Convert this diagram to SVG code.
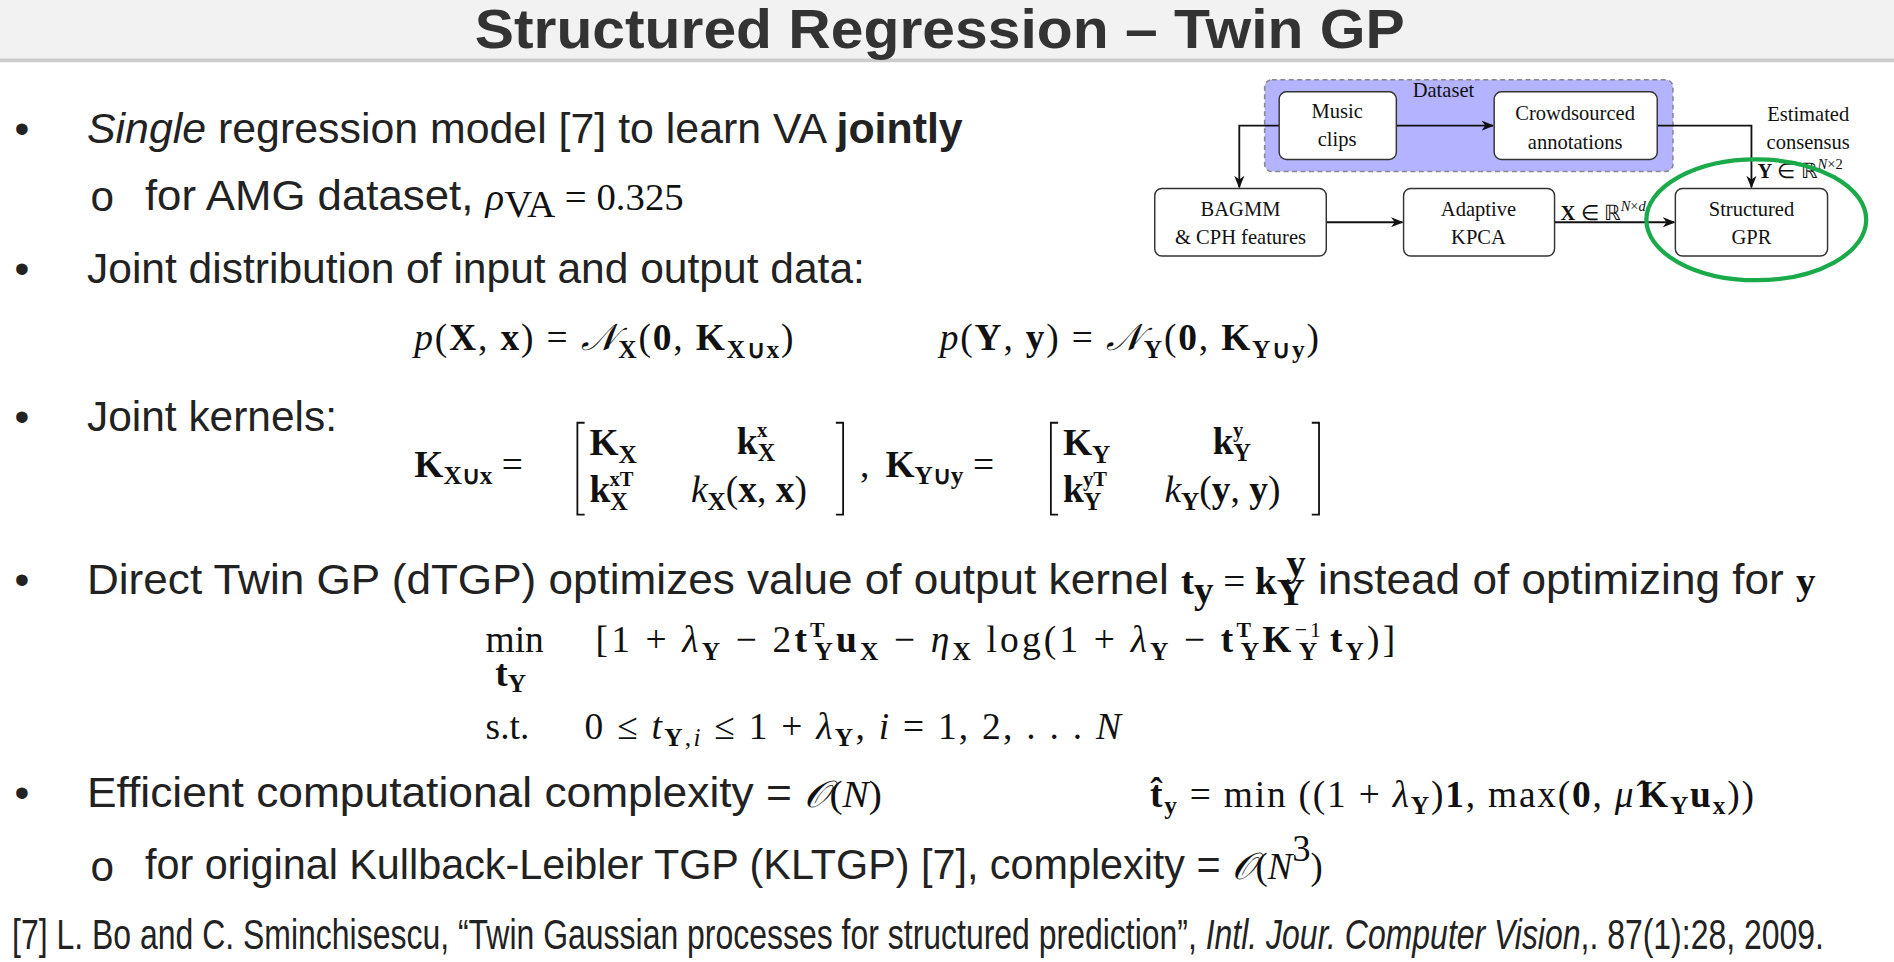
<svg xmlns="http://www.w3.org/2000/svg" width="1894" height="962" viewBox="0 0 1894 962">
<style>
.t{font-family:"Liberation Sans",Arial,sans-serif;font-size:35px;fill:#222}
.m{font-family:"Liberation Serif","Times New Roman",serif;font-size:31px;fill:#111}
.d{font-family:"Liberation Serif","Times New Roman",serif;font-size:17px;fill:#111}
.b{fill:#fff;stroke:#333;stroke-width:1.2}
.c{fill:none;stroke:#111;stroke-width:1.5}
</style>
<defs><marker id="a" viewBox="0 0 10 10" refX="9" refY="5" markerWidth="7" markerHeight="7" orient="auto"><path d="M0,1 L10,5 L0,9 L3,5 z" fill="#111"/></marker></defs>
<rect width="1894" height="962" fill="#fff"/>
<g transform="scale(1.2079)">
<rect x="0" y="0" width="1568" height="50" fill="#f2f2f2"/>
<line x1="0" y1="50" x2="1568" y2="50" stroke="#ccc" stroke-width="3"/>
<text x="393" y="40" textLength="770" lengthAdjust="spacingAndGlyphs" style="font-family:'Liberation Sans',Arial,sans-serif;font-size:46px;font-weight:bold;fill:#333">Structured Regression – Twin GP</text>

<g id="text">
<text class="t" x="12" y="118">•</text>
<text class="t" x="72" y="118" textLength="725" lengthAdjust="spacingAndGlyphs"><tspan font-style="italic">Single</tspan> regression model [7] to learn VA <tspan font-weight="bold">jointly</tspan></text>
<text class="t" x="75" y="175" font-size="28">o</text>
<text class="t" x="120" y="174" textLength="446" lengthAdjust="spacingAndGlyphs">for AMG dataset, <tspan class="m" font-size="33" font-style="italic">ρ</tspan><tspan class="m" font-size="22" dy="6">VA</tspan><tspan class="m" font-size="33" dy="-6"> = 0.325</tspan></text>
<text class="t" x="12" y="234">•</text>
<text class="t" x="72" y="234" textLength="644" lengthAdjust="spacingAndGlyphs">Joint distribution of input and output data:</text>
<text class="m" x="343" y="290" textLength="314"><tspan font-style="italic">p</tspan>(<tspan font-weight="bold">X</tspan>, <tspan font-weight="bold">x</tspan>) = <tspan font-style="italic">𝒩</tspan><tspan font-size="21" font-weight="bold" dy="6">X</tspan><tspan dy="-6">(</tspan><tspan font-weight="bold">0</tspan>, <tspan font-weight="bold">K</tspan><tspan font-size="21" font-weight="bold" dy="6">X∪x</tspan><tspan dy="-6">)</tspan></text>
<text class="m" x="778" y="290" textLength="314"><tspan font-style="italic">p</tspan>(<tspan font-weight="bold">Y</tspan>, <tspan font-weight="bold">y</tspan>) = <tspan font-style="italic">𝒩</tspan><tspan font-size="21" font-weight="bold" dy="6">Y</tspan><tspan dy="-6">(</tspan><tspan font-weight="bold">0</tspan>, <tspan font-weight="bold">K</tspan><tspan font-size="21" font-weight="bold" dy="6">Y∪y</tspan><tspan dy="-6">)</tspan></text>
<text class="t" x="12" y="357">•</text>
<text class="t" x="72" y="357" textLength="207" lengthAdjust="spacingAndGlyphs">Joint kernels:</text>
<text class="m" x="343" y="395" font-weight="bold">K<tspan font-size="21" dy="6">X∪x</tspan><tspan dy="-6" font-weight="normal"> =</tspan></text>
<path d="M484,350 h-6 v76 h6 M692,350 h6 v76 h-6" class="c" stroke-width="2"/>
<text class="m" x="488" y="377" font-weight="bold">K<tspan font-size="21" dy="6">X</tspan></text>
<text class="m" x="610" y="376" font-weight="bold">k<tspan font-size="20" dy="6">X</tspan><tspan font-size="17" dx="-15" dy="-20">x</tspan></text>
<text class="m" x="488" y="416" font-weight="bold">k<tspan font-size="20" dy="6">X</tspan><tspan font-size="17" dx="-15" dy="-20">xT</tspan></text>
<text class="m" x="572" y="416"><tspan font-style="italic">k</tspan><tspan font-size="21" font-weight="bold" dy="6">X</tspan><tspan dy="-6">(</tspan><tspan font-weight="bold">x</tspan>, <tspan font-weight="bold">x</tspan>)</text>
<text class="m" x="712" y="395">,</text>
<text class="m" x="733" y="395" font-weight="bold">K<tspan font-size="21" dy="6">Y∪y</tspan><tspan dy="-6" font-weight="normal"> =</tspan></text>
<path d="M876,350 h-6 v76 h6 M1086,350 h6 v76 h-6" class="c" stroke-width="2"/>
<text class="m" x="880" y="377" font-weight="bold">K<tspan font-size="21" dy="6">Y</tspan></text>
<text class="m" x="1004" y="376" font-weight="bold">k<tspan font-size="20" dy="6">Y</tspan><tspan font-size="17" dx="-15" dy="-20">y</tspan></text>
<text class="m" x="880" y="416" font-weight="bold">k<tspan font-size="20" dy="6">Y</tspan><tspan font-size="17" dx="-15" dy="-20">yT</tspan></text>
<text class="m" x="964" y="416"><tspan font-style="italic">k</tspan><tspan font-size="21" font-weight="bold" dy="6">Y</tspan><tspan dy="-6">(</tspan><tspan font-weight="bold">y</tspan>, <tspan font-weight="bold">y</tspan>)</text>
<text class="t" x="12" y="492">•</text>
<text class="t" x="72" y="492" textLength="1431" lengthAdjust="spacingAndGlyphs">Direct Twin GP (dTGP) optimizes value of output kernel <tspan class="m" font-size="35" font-weight="bold">t</tspan><tspan class="m" font-size="23" font-weight="bold" dy="7">y</tspan><tspan class="m" font-size="35" dy="-7"> = </tspan><tspan class="m" font-size="35" font-weight="bold">k</tspan><tspan class="m" font-size="23" font-weight="bold" dy="9">Y</tspan><tspan class="m" font-size="19" font-weight="bold" dx="-15" dy="-24">y</tspan><tspan dy="15"> instead of optimizing for </tspan><tspan class="m" font-size="35" font-weight="bold">y</tspan></text>
<text class="m" x="402" y="540">min</text>
<text class="m" x="410" y="568" font-weight="bold">t<tspan font-size="21" dy="5">Y</tspan></text>
<text class="m" x="493" y="540" textLength="662">[1 + <tspan font-style="italic">λ</tspan><tspan font-size="21" font-weight="bold" dy="6">Y</tspan><tspan dy="-6"> − 2</tspan><tspan font-weight="bold">t</tspan><tspan font-size="18" font-weight="bold" dy="-13">T</tspan><tspan font-size="21" font-weight="bold" dx="-11" dy="19">Y</tspan><tspan font-weight="bold" dy="-6">u</tspan><tspan font-size="21" font-weight="bold" dy="6">X</tspan><tspan dy="-6"> − </tspan><tspan font-style="italic">η</tspan><tspan font-size="21" font-weight="bold" dy="6">X</tspan><tspan dy="-6"> log(1 + </tspan><tspan font-style="italic">λ</tspan><tspan font-size="21" font-weight="bold" dy="6">Y</tspan><tspan dy="-6"> − </tspan><tspan font-weight="bold">t</tspan><tspan font-size="18" font-weight="bold" dy="-13">T</tspan><tspan font-size="21" font-weight="bold" dx="-11" dy="19">Y</tspan><tspan font-weight="bold" dy="-6">K</tspan><tspan font-size="18" dy="-13">−1</tspan><tspan font-size="21" font-weight="bold" dx="-21" dy="19">Y</tspan><tspan font-weight="bold" dx="8" dy="-6">t</tspan><tspan font-size="21" font-weight="bold" dy="6">Y</tspan><tspan dy="-6">)]</tspan></text>
<text class="m" x="402" y="612">s.t.</text>
<text class="m" x="484" y="612" textLength="444">0 ≤ <tspan font-style="italic">t</tspan><tspan font-size="21" dy="6"><tspan font-weight="bold">Y</tspan>,<tspan font-style="italic">i</tspan></tspan><tspan dy="-6"> ≤ 1 + </tspan><tspan font-style="italic">λ</tspan><tspan font-size="21" font-weight="bold" dy="6">Y</tspan><tspan dy="-6">, </tspan><tspan font-style="italic">i</tspan> = 1, 2, . . . <tspan font-style="italic">N</tspan></text>
<text class="t" x="12" y="668">•</text>
<text class="t" x="72" y="668" textLength="658" lengthAdjust="spacingAndGlyphs">Efficient computational complexity = <tspan class="m" font-size="35"><tspan font-style="italic">𝒪</tspan>(<tspan font-style="italic">N</tspan>)</tspan></text>
<text class="m" x="952" y="668" textLength="500"><tspan font-weight="bold">t̂</tspan><tspan font-size="21" font-weight="bold" dy="6">y</tspan><tspan dy="-6"> = min ((1 + </tspan><tspan font-style="italic">λ</tspan><tspan font-size="21" font-weight="bold" dy="6">Y</tspan><tspan dy="-6">)</tspan><tspan font-weight="bold">1</tspan>, max(<tspan font-weight="bold">0</tspan>, <tspan font-style="italic">μ̂</tspan><tspan font-weight="bold" dx="3">K</tspan><tspan font-size="21" font-weight="bold" dy="6">Y</tspan><tspan font-weight="bold" dy="-6">u</tspan><tspan font-size="21" font-weight="bold" dy="6">x</tspan><tspan dy="-6">))</tspan></text>
<text class="t" x="75" y="729" font-size="28">o</text>
<text class="t" x="120" y="728" textLength="975" lengthAdjust="spacingAndGlyphs">for original Kullback-Leibler TGP (KLTGP) [7], complexity = <tspan class="m" font-size="35"><tspan font-style="italic">𝒪</tspan>(<tspan font-style="italic">N</tspan></tspan><tspan class="m" font-size="21" dy="-15">3</tspan><tspan class="m" font-size="35" dy="15">)</tspan></text>
<text class="t" x="10" y="786" font-size="23" textLength="1500" lengthAdjust="spacingAndGlyphs">[7] L. Bo and C. Sminchisescu, “Twin Gaussian processes for structured prediction”, <tspan font-style="italic">Intl. Jour. Computer Vision</tspan>,. 87(1):28, 2009.</text>
</g>

<g id="dataset"><rect x="1047" y="66" width="338" height="76" rx="6" fill="#b3b3ff" stroke="#888" stroke-width="1.3" stroke-dasharray="4,3"/><text class="d" x="1195" y="80" text-anchor="middle">Dataset</text></g>
<g id="connectors">
<path class="c" d="M1156,104 H1236" marker-end="url(#a)"/>
<path class="c" d="M1059,104 H1026 V155" marker-end="url(#a)"/>
<path class="c" d="M1098,184 H1161" marker-end="url(#a)"/>
<path class="c" d="M1287,184 H1386" marker-end="url(#a)"/>
<path class="c" d="M1372,104 H1450 V155" marker-end="url(#a)"/>
</g>
<g id="music"><rect class="b" x="1059" y="76" width="97" height="56" rx="6"/><text class="d" x="1107" y="98" text-anchor="middle">Music</text><text class="d" x="1107" y="121" text-anchor="middle">clips</text></g>
<g id="crowd"><rect class="b" x="1237" y="76" width="135" height="56" rx="6"/><text class="d" x="1304" y="99" text-anchor="middle">Crowdsourced</text><text class="d" x="1304" y="123" text-anchor="middle">annotations</text></g>
<g id="bagmm"><rect class="b" x="956" y="156" width="142" height="56" rx="6"/><text class="d" x="1027" y="179" text-anchor="middle">BAGMM</text><text class="d" x="1027" y="202" text-anchor="middle">&amp; CPH features</text></g>
<g id="kpca"><rect class="b" x="1162" y="156" width="125" height="56" rx="6"/><text class="d" x="1224" y="179" text-anchor="middle">Adaptive</text><text class="d" x="1224" y="202" text-anchor="middle">KPCA</text></g>
<g id="gpr"><rect class="b" x="1387" y="156" width="126" height="56" rx="6"/><text class="d" x="1450" y="179" text-anchor="middle">Structured</text><text class="d" x="1450" y="202" text-anchor="middle">GPR</text></g>
<g id="labels">
<text class="d" x="1497" y="100" text-anchor="middle">Estimated</text>
<text class="d" x="1497" y="123" text-anchor="middle">consensus</text>
<text class="d" x="1455" y="147" font-size="16"><tspan font-weight="bold">Y</tspan> ∈ ℝ<tspan font-size="12" dy="-7" font-style="italic">N</tspan><tspan font-size="12">×2</tspan></text>
<text class="d" x="1292" y="182" font-size="16"><tspan font-weight="bold">X</tspan> ∈ ℝ<tspan font-size="12" dy="-7"><tspan font-style="italic">N</tspan>×<tspan font-style="italic">d</tspan></tspan></text>
</g>
<ellipse cx="1454" cy="182" rx="91" ry="50" fill="none" stroke="#1aaa4a" stroke-width="3.5"/>
</g>
</svg>
